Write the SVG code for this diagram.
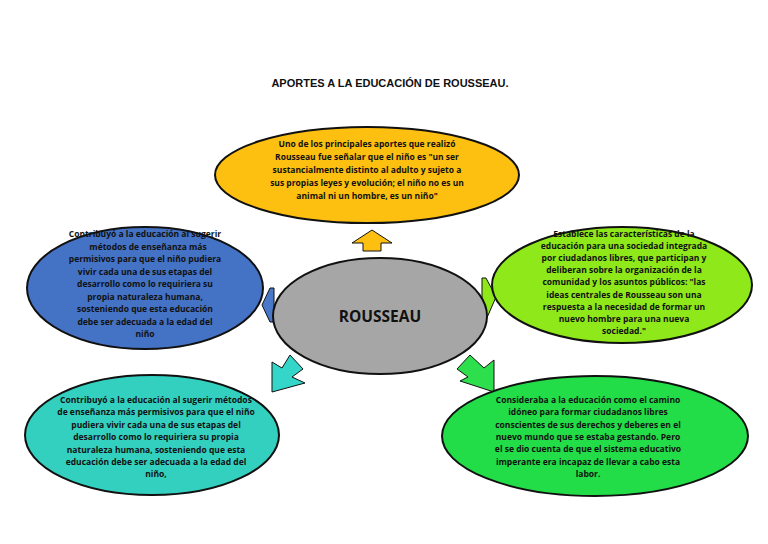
<svg xmlns="http://www.w3.org/2000/svg" width="768" height="544" viewBox="0 0 768 544">
<style>
.n{stroke:#111;stroke-width:2}
.t{font-family:"Open Sans","Noto Sans",sans-serif;font-weight:bold;font-size:8.5px;fill:#111;text-anchor:middle}
.a{stroke:#111;stroke-width:1}
</style>
<rect width="768" height="544" fill="#fff"/>
<text x="390" y="87" font-family="Liberation Sans,Arial,sans-serif" font-weight="bold" font-size="11" text-anchor="middle" fill="#111">APORTES A LA EDUCACIÓN DE ROUSSEAU.</text>
<g id="connectors">
<polygon class="a" fill="#fdc010" points="352,243 372,230 392,243 381,243 381,251 363,251 363,243"/>
<polygon class="a" fill="#4a78c8" points="270,288 262,305 270,322 274,322 274,288"/>
<polygon class="a" fill="#8ee81a" points="486,278 496,297 486,320 482,320 482,278"/>
<polygon class="a" fill="#33d6c8" points="290,355 303,369 292,377 305,383 272,392 272,362 282,368"/>
<polygon class="a" fill="#2ddf4c" points="470,355 457,369 468,377 460,381 494,392 494,360 484,368"/>
</g>
<g id="top">
<ellipse class="n" cx="367" cy="175" rx="152" ry="48" fill="#fdc010"/>
<text class="t"><tspan x="367" y="147">Uno de los principales aportes que realizó</tspan><tspan x="367" y="160">Rousseau fue señalar que el niño es "un ser</tspan><tspan x="367" y="173">sustancialmente distinto al adulto y sujeto a</tspan><tspan x="367" y="186">sus propias leyes y evolución; el niño no es un</tspan><tspan x="367" y="199">animal ni un hombre, es un niño"</tspan></text>
</g>
<g id="left">
<ellipse class="n" cx="145" cy="288" rx="118" ry="61" fill="#4472c4"/>
<text class="t"><tspan x="145" y="237">Contribuyó a la educación al sugerir</tspan><tspan x="148" y="250">métodos de enseñanza más</tspan><tspan x="145" y="262">permisivos para que el niño pudiera</tspan><tspan x="145" y="275">vivir cada una de sus etapas del</tspan><tspan x="145" y="287">desarrollo como lo requiriera su</tspan><tspan x="145" y="300">propia naturaleza humana,</tspan><tspan x="145" y="312">sosteniendo que esta educación</tspan><tspan x="145" y="325">debe ser adecuada a la edad del</tspan><tspan x="145" y="337">niño</tspan></text>
</g>
<g id="center">
<ellipse class="n" cx="380" cy="316" rx="107" ry="58" fill="#a6a6a6"/>
<text x="380" y="322" font-family="Open Sans,sans-serif" font-weight="bold" font-size="15.5" text-anchor="middle" fill="#111">ROUSSEAU</text>
</g>
<g id="right">
<ellipse class="n" cx="622" cy="285" rx="130" ry="58" fill="#8ee81a"/>
<text class="t"><tspan x="624" y="237">Establece las características de la</tspan><tspan x="624" y="249">educación para una sociedad integrada</tspan><tspan x="624" y="261">por ciudadanos libres, que participan y</tspan><tspan x="624" y="273">deliberan sobre la organización de la</tspan><tspan x="624" y="285">comunidad y los asuntos públicos: "las</tspan><tspan x="624" y="298">ideas centrales de Rousseau son una</tspan><tspan x="624" y="310">respuesta a la necesidad de formar un</tspan><tspan x="624" y="322">nuevo hombre para una nueva</tspan><tspan x="624" y="334">sociedad."</tspan></text>
</g>
<g id="bottomleft">
<ellipse class="n" cx="152" cy="435" rx="127" ry="60" fill="#33d0c0"/>
<text class="t"><tspan x="156" y="403">Contribuyó a la educación al sugerir métodos</tspan><tspan x="156" y="415">de enseñanza más permisivos para que el niño</tspan><tspan x="156" y="428">pudiera vivir cada una de sus etapas del</tspan><tspan x="156" y="440">desarrollo como lo requiriera su propia</tspan><tspan x="156" y="453">naturaleza humana, sosteniendo que esta</tspan><tspan x="156" y="465">educación debe ser adecuada a la edad del</tspan><tspan x="156" y="477">niño,</tspan></text>
</g>
<g id="bottomright">
<ellipse class="n" cx="595" cy="436" rx="153" ry="60" fill="#22dd48"/>
<text class="t"><tspan x="588" y="403">Consideraba a la educación como el camino</tspan><tspan x="588" y="415">idóneo para formar ciudadanos libres</tspan><tspan x="588" y="428">conscientes de sus derechos y deberes en el</tspan><tspan x="588" y="440">nuevo mundo que se estaba gestando. Pero</tspan><tspan x="588" y="452">el se dio cuenta de que el sistema educativo</tspan><tspan x="588" y="465">imperante era incapaz de llevar a cabo esta</tspan><tspan x="588" y="477">labor.</tspan></text>
</g>
</svg>
